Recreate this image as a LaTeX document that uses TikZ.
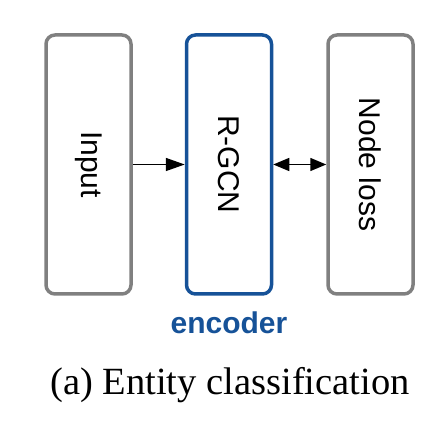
\documentclass[tikz,border=0pt]{standalone}
\usepackage{fontspec}
\setmainfont{Liberation Serif}
\newfontfamily\sansfnt{Liberation Sans}
\usetikzlibrary{arrows.meta}
\definecolor{boxgray}{RGB}{128,128,128}
\definecolor{encblue}{RGB}{22,82,152}
\tikzset{
  blk/.style={draw, line width=3.5pt, rounded corners=9pt, minimum width=85pt, minimum height=259pt, inner sep=0pt},
  grayblk/.style={blk, draw=boxgray},
  blueblk/.style={blk, draw=encblue},
  lbl/.style={rotate=-90, inner sep=0pt, font=\sansfnt\fontsize{30}{36}\selectfont},
  arr/.style={line width=1.5pt, -{Triangle[length=19pt,width=13pt]}},
  darr/.style={line width=1.5pt, {Triangle[length=16pt,width=13pt]}-{Triangle[length=16pt,width=13pt]}},
}
\begin{document}
\begin{tikzpicture}[x=1pt,y=1pt]
\useasboundingbox (0,0) rectangle (445,-430);
\node[grayblk] (input) at (88.5,-164.5) {};
\node[blueblk] (rgcn) at (229,-164.5) {};
\node[grayblk] (loss) at (370.5,-164.5) {};
\node[lbl] (inputl) at (input) {Input};
\node[lbl] (rgcnl) at (rgcn) {R-GCN};
\node[lbl] (lossl) at (loss) {Node loss};
\draw[arr] (input.east) -- (rgcn.west);
\draw[darr] (rgcn.east) -- (loss.west);
\node[anchor=base, text=encblue, font=\sansfnt\bfseries\fontsize{30}{36}\selectfont, inner sep=0pt] (enc) at (229,-334) {encoder};
\node[anchor=base, font=\fontsize{38.5}{44}\selectfont, inner sep=0pt] (cap) at (230,-395) {(a) Entity classification};
\end{tikzpicture}
\end{document}
